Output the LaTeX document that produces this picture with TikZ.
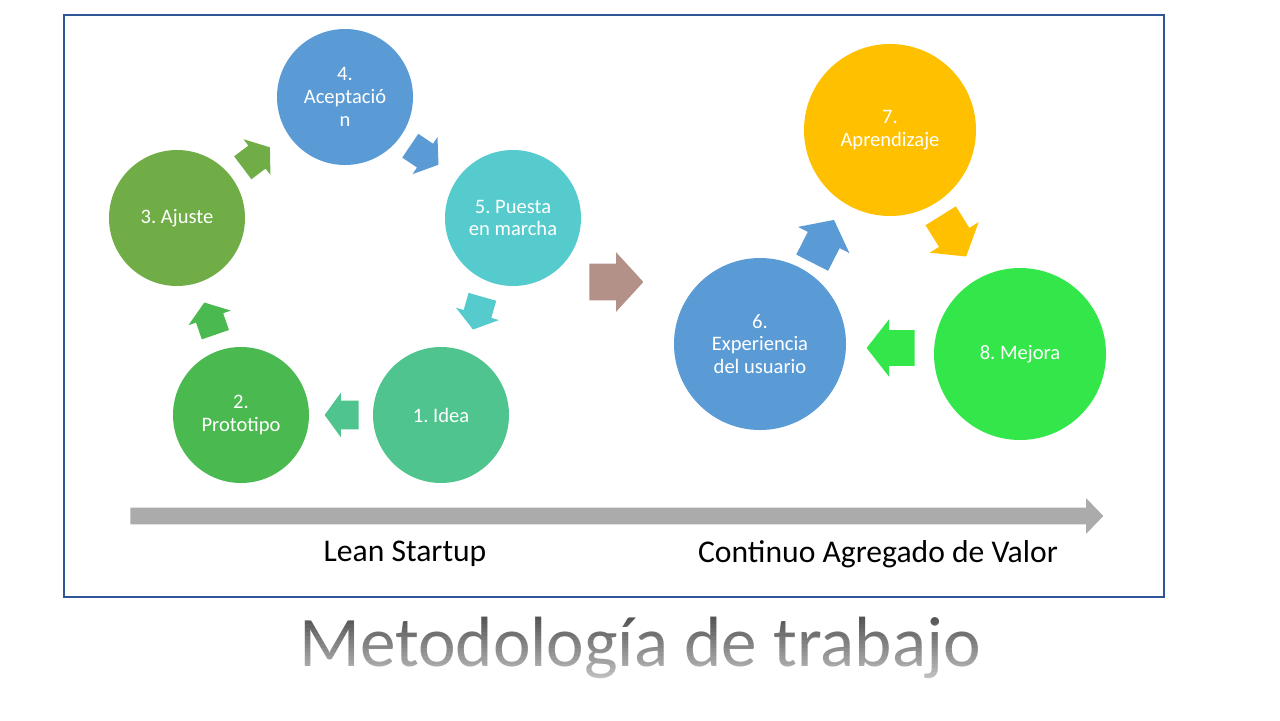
\documentclass[tikz,border=0pt]{standalone}
\usepackage{fontspec}
\setmainfont{Carlito}
\usepackage{tikz}
\usetikzlibrary{positioning,calc,shapes.arrows}
\usepackage{xcolor}

\definecolor{framecol}{HTML}{2F5597}
\definecolor{ideacol}{HTML}{4FC48E}
\definecolor{protocol}{HTML}{4AB94F}
\definecolor{ajustecol}{HTML}{70AD47}
\definecolor{acepcol}{HTML}{5B9BD5}
\definecolor{puestacol}{HTML}{55CBCD}
\definecolor{aprencol}{HTML}{FFC000}
\definecolor{mejoracol}{HTML}{33E64A}
\definecolor{pasocol}{HTML}{B39088}
\definecolor{ejecol}{HTML}{ABABAB}
\definecolor{titlecol}{HTML}{505050}

\newcommand{\px}{0.02cm}
\newcommand{\circfont}{\fontsize{11.7}{13}\selectfont}
\newcommand{\labfont}{\fontsize{18}{21}\selectfont}
\newcommand{\titlefont}{\fontsize{40.5}{48}\selectfont}
\frenchspacing

\begin{document}
\begin{tikzpicture}[x=\px,y=-\px,
            phase/.style={circle,inner sep=0pt,minimum size=136*\px,text=white,align=center,font=\circfont},
            bigphase/.style={phase,minimum size=172*\px},
            cyclearrow/.style={single arrow,anchor=tail,inner xsep=0pt,inner ysep=14*\px,minimum height=34*\px,minimum width=44*\px,single arrow head extend=8*\px,single arrow tip angle=108},
            valuearrow/.style={single arrow,anchor=tail,inner xsep=0pt,inner ysep=17.5*\px,minimum height=48*\px,minimum width=57*\px,single arrow head extend=11*\px,single arrow tip angle=104},
            label/.style={font=\labfont,text=black}]

            \fill[white] (0,0) rectangle (1280,720);
            \useasboundingbox (0,0) rectangle (1280,720);
            \draw[framecol,line width=0.6pt] (64,15) rectangle (1164,597);

            % Lean Startup
            \node[phase,fill=ideacol]   (idea)   at (441,415) {1. Idea};
            \node[phase,fill=protocol]  (proto)  at (241,415) {2.\\Prototipo};
            \node[phase,fill=ajustecol] (ajuste) at (177,218) {3. Ajuste};
            \node[phase,fill=acepcol]   (acep)   at (345,97)  {4.\\Aceptació\\n};
            \node[phase,fill=puestacol] (puesta) at (513,218) {5. Puesta\\en marcha};

            \node[cyclearrow,fill=ideacol,rotate=180]    (a12) at (359,415) {};
            \node[cyclearrow,fill=protocol,rotate=109]   (a23) at (215.5,335) {};
            \node[cyclearrow,fill=ajustecol,rotate=37]   (a34) at (242.5,168) {};
            \node[cyclearrow,fill=acepcol,rotate=-34]    (a45) at (410,145.5) {};
            \node[cyclearrow,fill=puestacol,rotate=-106] (a51) at (482.5,296.5) {};

            % paso
            \node[single arrow,anchor=tail,fill=pasocol,inner xsep=0pt,inner ysep=18*\px,minimum height=54*\px,minimum width=59*\px,single arrow head extend=11.5*\px,single arrow tip angle=95] (paso) at (589,282) {};

            % Continuo Agregado de Valor
            \node[bigphase,fill=acepcol]   (exper)  at (760,344) {6.\\Experiencia\\del usuario};
            \node[bigphase,fill=aprencol]  (apren)  at (890,130) {7.\\Aprendizaje};
            \node[bigphase,fill=mejoracol] (mejora) at (1020,354) {8. Mejora};

            \node[valuearrow,fill=acepcol,rotate=63]    (a67) at (812,263) {};
            \node[valuearrow,fill=aprencol,rotate=-58]  (a78) at (940.5,215.5) {};
            \node[valuearrow,fill=mejoracol,rotate=180] (a86) at (915,348) {};

            % eje
            \node[single arrow,anchor=tail,fill=ejecol,inner xsep=0pt,inner ysep=8*\px,minimum height=973*\px,minimum width=35*\px,single arrow head extend=9.5*\px,single arrow tip angle=92] (eje) at (130,516) {};
            \node[label] (lean)  at (405,554) {Lean Startup};
            \node[label] (valor) at (878,554) {Continuo Agregado de Valor};

            % titulo, aclarado hacia abajo
            \node[font=\titlefont,text=titlecol] (title) at (640,648) {Metodología de trabajo};
            \foreach \i in {0,...,19}{
               \pgfmathsetmacro{\fade}{max(0,min(0.9,0.03+(4*\i-4)*0.0102))}
               \fill[white,opacity=\fade] (290,612+4*\i) rectangle (990,616+4*\i);
            }
\end{tikzpicture}
\end{document}
